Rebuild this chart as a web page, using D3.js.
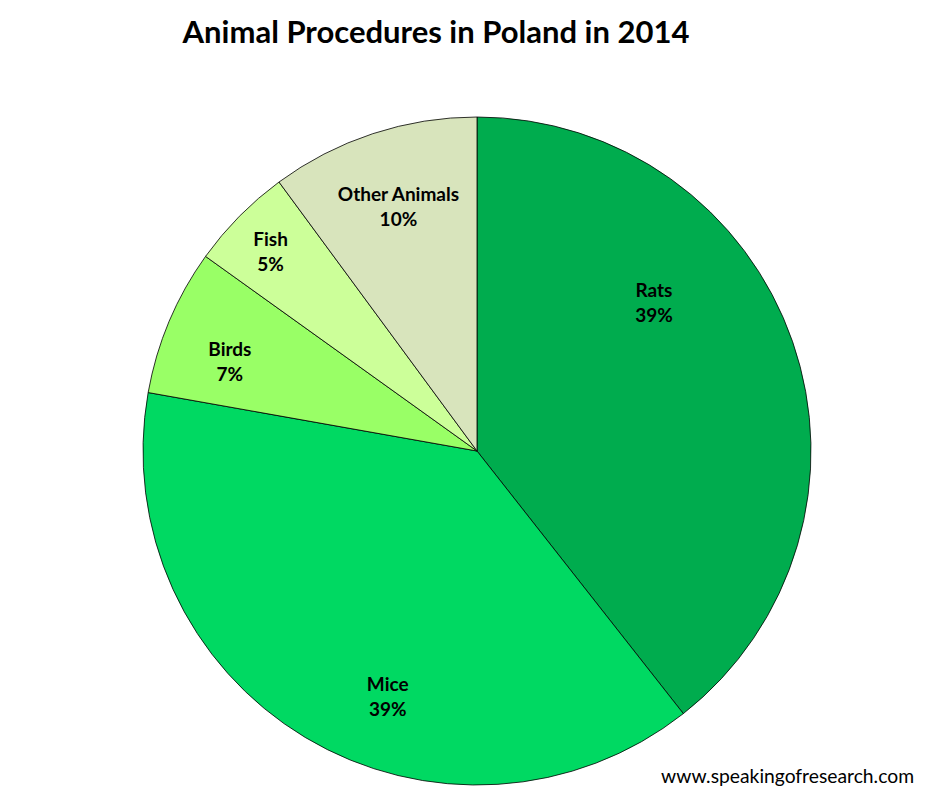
<!DOCTYPE html>
<html>
<head>
<meta charset="utf-8">
<script src="https://cdn.jsdelivr.net/npm/d3@7"></script>
<style>
  body { margin: 0; background: #fff; }
  svg text { font-family: Lato, "Open Sans", sans-serif; }
</style>
</head>
<body>
<div id="chart"></div>
<script>
// slice data, clockwise from 12 o'clock
const animals = ["Rats", "Mice", "Birds", "Fish", "Other Animals"];
const shares = [39.4, 38.4, 7.1, 5.0, 10.1];
const pctLabels = ["39%", "39%", "7%", "5%", "10%"];
const colors = ["#00ac4e", "#00d962", "#99ff66", "#ccff99", "#d8e4bc"];

const width = 926, height = 792;
const cx = 477, cy = 451, radius = 334;

// Excel's "best fit" puts labels a bit off the slice middle
const labelPlace = {
    "Rats": {angle: 50, dist: 231},
    "Mice": {angle: 200, dist: 261},
    "Birds": {angle: 290, dist: 263},
    "Fish": {angle: 314, dist: 287},
    "Other Animals": {angle: 342.2, dist: 257}
};

const svg = d3.select("#chart").append("svg")
    .attr("width", width)
    .attr("height", height);

svg.append("text")
    .attr("x", 436)
    .attr("y", 43)
    .attr("text-anchor", "middle")
    .style("font-size", "31px")
    .style("font-weight", "bold")
    .text("Animal Procedures in Poland in 2014");

const rows = animals.map((a, i) => ({name: a, value: shares[i], pct: pctLabels[i], color: colors[i]}));

const pie = d3.pie().sort(null).value(d => d.value);
const arc = d3.arc().innerRadius(0).outerRadius(radius);

const g = svg.append("g").attr("transform", `translate(${cx},${cy})`);
const arcs = pie(rows);

g.selectAll("path")
    .data(arcs)
    .join("path")
    .attr("d", arc)
    .attr("fill", d => d.data.color)
    .attr("stroke", "#000")
    .attr("stroke-width", 0.8);

const labels = g.selectAll("text.lbl")
    .data(arcs)
    .join("text")
    .attr("class", "lbl")
    .attr("text-anchor", "middle")
    .style("font-size", "19px")
    .style("font-weight", "bold")
    .attr("transform", d => {
        let p = labelPlace[d.data.name];
        let a, r;
        if (p) { a = p.angle * Math.PI / 180; r = p.dist; }
        else { a = (d.startAngle + d.endAngle) / 2; r = 263; }
        let [x, y] = d3.pointRadial(a, r);
        return `translate(${x},${y})`;
    });
labels.append("tspan").attr("x", 0).attr("y", -5.5).text(d => d.data.name);
labels.append("tspan").attr("x", 0).attr("y", 19.5).text(d => d.data.pct);

svg.append("text")
    .attr("x", 914)
    .attr("y", 783)
    .attr("text-anchor", "end")
    .style("font-size", "19.3px")
    .text("www.speakingofresearch.com");
</script>
</body>
</html>
